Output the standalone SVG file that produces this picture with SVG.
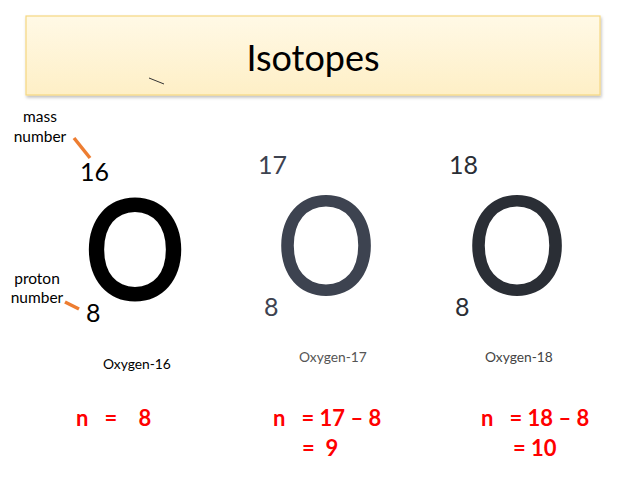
<svg xmlns="http://www.w3.org/2000/svg" width="638" height="478" viewBox="0 0 638 478">
<style>
text{font-family:Lato,"Open Sans","Liberation Sans",sans-serif}
.lbl{font-size:15.5px;fill:#000}
.num{font-size:25px;fill:#3d4350}
.iso{font-size:13.8px}
.red{font-size:22px;font-weight:bold;fill:#ff0000}
.big{font-size:138px}
.lead{stroke:#ED7D31;stroke-width:3.5;stroke-linecap:butt}
</style>
<defs>
<linearGradient id="tg" x1="0" y1="0" x2="0" y2="1">
<stop offset="0" stop-color="#FFF9E6"/>
<stop offset="1" stop-color="#FEEFC6"/>
</linearGradient>
<filter id="sh" x="-5%" y="-20%" width="110%" height="150%">
<feDropShadow dx="1" dy="2" stdDeviation="1.5" flood-color="#000" flood-opacity="0.25"/>
</filter>
</defs>
<rect width="638" height="478" fill="#fff"/>
<g id="title">
<rect x="26" y="16" width="574" height="79" fill="url(#tg)" stroke="#F6D780" stroke-width="1.2" filter="url(#sh)"/>
<text x="313" y="71" text-anchor="middle" font-size="36" fill="#000">Isotopes</text>
<line x1="149" y1="78" x2="164" y2="84" stroke="#333" stroke-width="1"/>
</g>
<g id="oxygen16">
<text transform="translate(135 299) scale(0.92 1)" text-anchor="middle" class="big" fill="#000" stroke="#000" stroke-width="3">O</text>
<text x="80" y="181" class="num" style="fill:#000">16</text>
<text x="86" y="322" class="num" style="fill:#000">8</text>
<text x="103" y="369" class="iso" fill="#000">Oxygen-16</text>
<text x="76" y="426" class="red" xml:space="preserve">n   =    8</text>
</g>
<g id="oxygen17">
<text transform="translate(326 295) scale(0.92 1)" text-anchor="middle" class="big" fill="#3d4350">O</text>
<text x="258" y="174" class="num">17</text>
<text x="264" y="316" class="num">8</text>
<text x="299" y="362" class="iso" fill="#555">Oxygen-17</text>
<text x="273" y="426" class="red" xml:space="preserve">n   = 17 – 8</text>
<text x="302" y="456" class="red" xml:space="preserve">=  9</text>
</g>
<g id="oxygen18">
<text transform="translate(517 295) scale(0.92 1)" text-anchor="middle" class="big" fill="#2a2e35">O</text>
<text x="449" y="174" class="num" style="fill:#2a2e35">18</text>
<text x="455" y="316" class="num" style="fill:#2a2e35">8</text>
<text x="485" y="362" class="iso" fill="#444">Oxygen-18</text>
<text x="481" y="426" class="red" xml:space="preserve">n   = 18 – 8</text>
<text x="513" y="456" class="red" xml:space="preserve">= 10</text>
</g>
<g id="mass-label">
<text x="40" y="122" text-anchor="middle" class="lbl">mass</text>
<text x="40" y="142" text-anchor="middle" class="lbl">number</text>
</g>
<g id="proton-label">
<text x="37" y="284" text-anchor="middle" class="lbl">proton</text>
<text x="37" y="303" text-anchor="middle" class="lbl">number</text>
</g>
<g id="connectors">
<line class="lead" x1="74" y1="138" x2="90" y2="158"/>
<line class="lead" x1="65" y1="302" x2="79" y2="309"/>
</g>
</svg>
